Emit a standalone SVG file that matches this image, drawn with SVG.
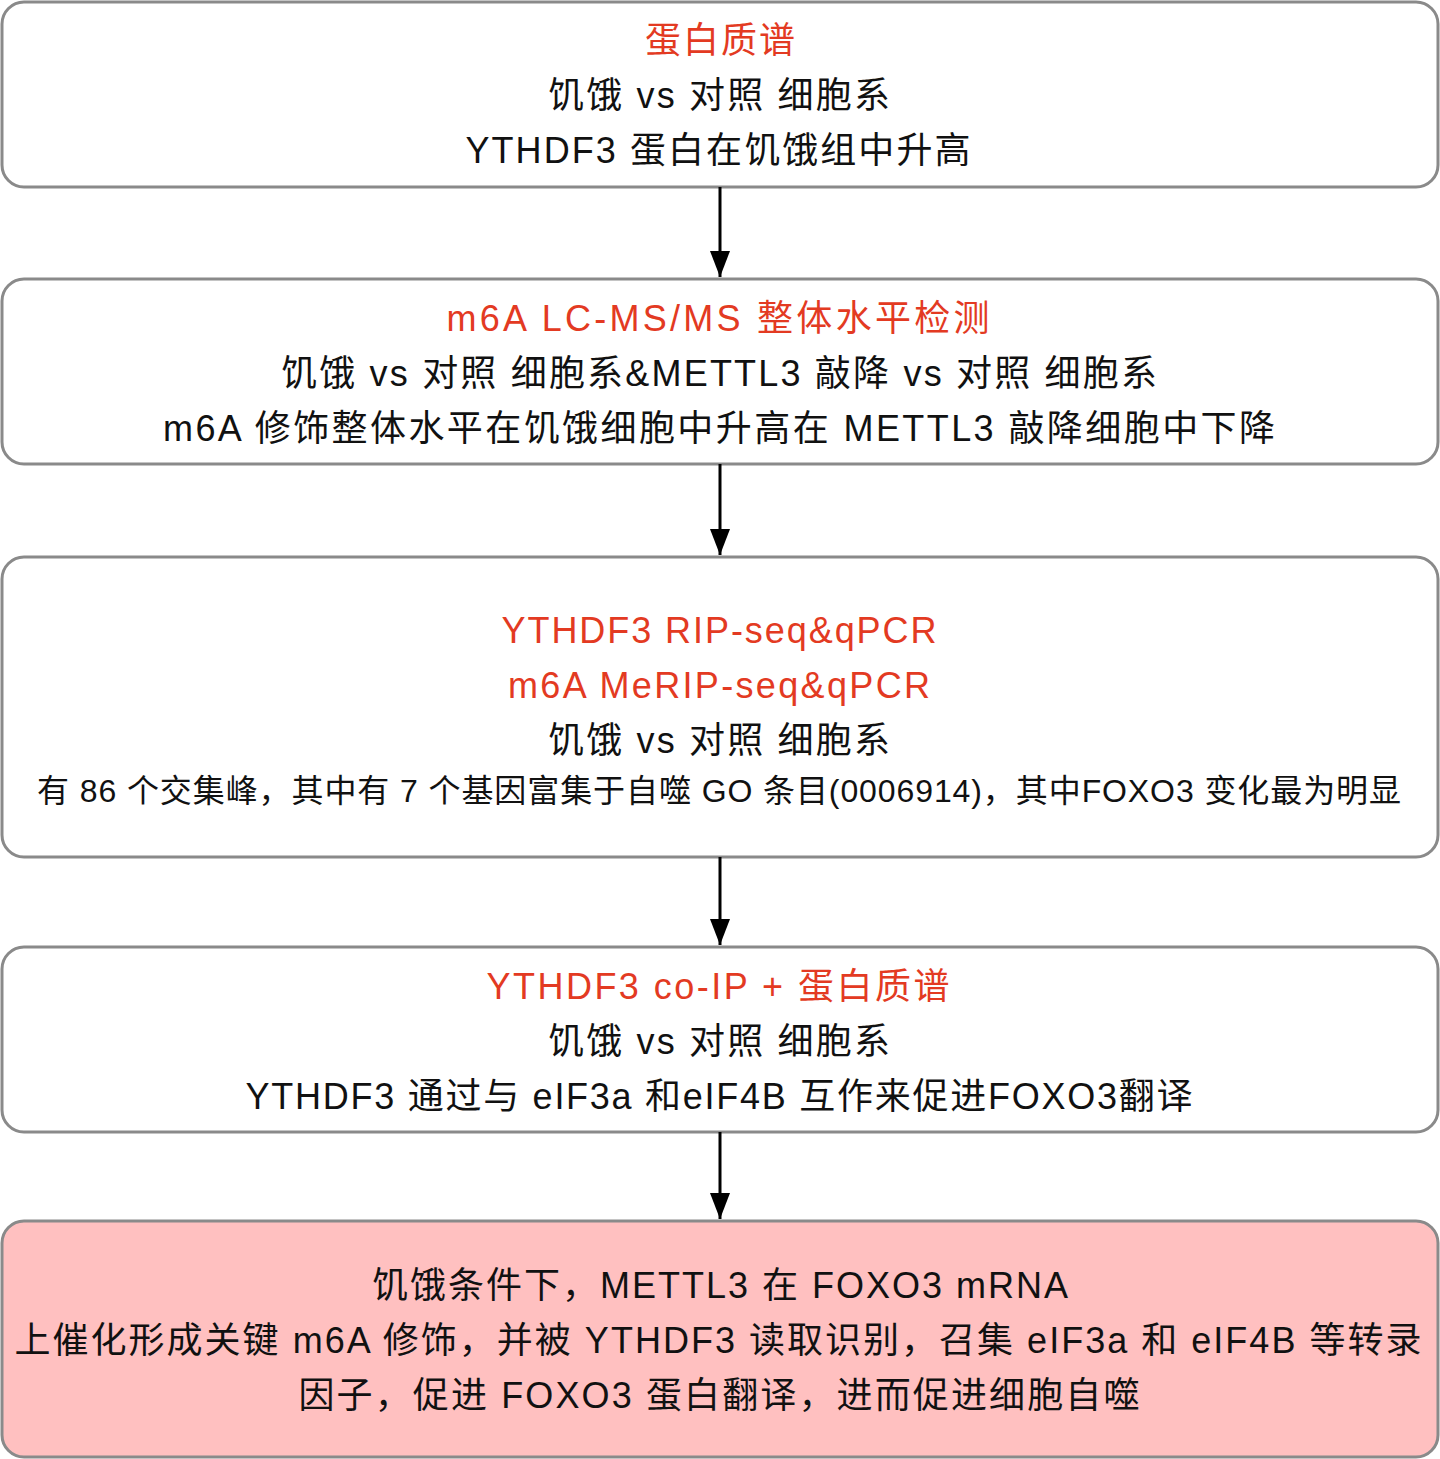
<svg xmlns="http://www.w3.org/2000/svg" width="1440" height="1459" viewBox="0 0 1440 1459">
<style>
.box{fill:#fff;stroke:#8a8a8a;stroke-width:3}
.hl{fill:#ffc0c0}
text{font-family:"Liberation Sans","Noto Sans CJK SC",sans-serif;font-size:36px;text-anchor:middle;fill:#111}
.r{fill:#e33a22}
.c{stroke:#000;stroke-width:3;fill:none}
</style>
<defs>
<marker id="a" viewBox="0 0 20 26" refX="10" refY="26" markerWidth="20" markerHeight="26" orient="0" markerUnits="userSpaceOnUse"><path d="M0,0L20,0L10,26z" fill="#000"/></marker></defs>
<g id="n1"><rect class="box" x="2" y="2" width="1436" height="185" rx="22"/>
<text class="r" x="720" y="53" textLength="150" lengthAdjust="spacing">蛋白质谱</text><text x="719" y="108" textLength="342" lengthAdjust="spacing">饥饿 vs 对照 细胞系</text><text x="718" y="163" textLength="505" lengthAdjust="spacing">YTHDF3 蛋白在饥饿组中升高</text></g>
<g id="n2"><rect class="box" x="2" y="279" width="1436" height="185" rx="22"/>
<text class="r" x="718" y="331" textLength="543" lengthAdjust="spacing">m6A LC-MS/MS 整体水平检测</text><text x="719" y="386" textLength="876" lengthAdjust="spacing">饥饿 vs 对照 细胞系&amp;METTL3 敲降 vs 对照 细胞系</text><text x="719" y="441" textLength="1112" lengthAdjust="spacing">m6A 修饰整体水平在饥饿细胞中升高在 METTL3 敲降细胞中下降</text></g>
<g id="n3"><rect class="box" x="2" y="557" width="1436" height="300" rx="22"/>
<text class="r" x="719" y="643" textLength="435" lengthAdjust="spacing">YTHDF3 RIP-seq&amp;qPCR</text><text class="r" x="719" y="698" textLength="422" lengthAdjust="spacing">m6A MeRIP-seq&amp;qPCR</text><text x="719" y="753" textLength="342" lengthAdjust="spacing">饥饿 vs 对照 细胞系</text><text x="719" y="802" style="font-size:32px" textLength="1364" lengthAdjust="spacing">有 86 个交集峰，其中有 7 个基因富集于自噬 GO 条目(0006914)，其中FOXO3 变化最为明显</text></g>
<g id="n4"><rect class="box" x="2" y="947" width="1436" height="185" rx="22"/>
<text class="r" x="718" y="999" textLength="463" lengthAdjust="spacing">YTHDF3 co-IP + 蛋白质谱</text><text x="719" y="1054" textLength="342" lengthAdjust="spacing">饥饿 vs 对照 细胞系</text><text x="719" y="1109" textLength="947" lengthAdjust="spacing">YTHDF3 通过与 eIF3a 和eIF4B 互作来促进FOXO3翻译</text></g>
<g id="n5"><rect class="box hl" x="2" y="1221" width="1436" height="236" rx="22"/>
<text x="720" y="1298" textLength="696" lengthAdjust="spacing">饥饿条件下，METTL3 在 FOXO3 mRNA</text><text x="718" y="1353" textLength="1407" lengthAdjust="spacing">上催化形成关键 m6A 修饰，并被 YTHDF3 读取识别，召集 eIF3a 和 eIF4B 等转录</text><text x="719" y="1408" textLength="841" lengthAdjust="spacing">因子，促进 FOXO3 蛋白翻译，进而促进细胞自噬</text></g>
<g id="connectors">
<line class="c" x1="720" y1="187" x2="720" y2="277" marker-end="url(#a)"/>
<line class="c" x1="720" y1="464" x2="720" y2="555" marker-end="url(#a)"/>
<line class="c" x1="720" y1="857" x2="720" y2="945" marker-end="url(#a)"/>
<line class="c" x1="720" y1="1132" x2="720" y2="1219" marker-end="url(#a)"/>
</g>
</svg>
